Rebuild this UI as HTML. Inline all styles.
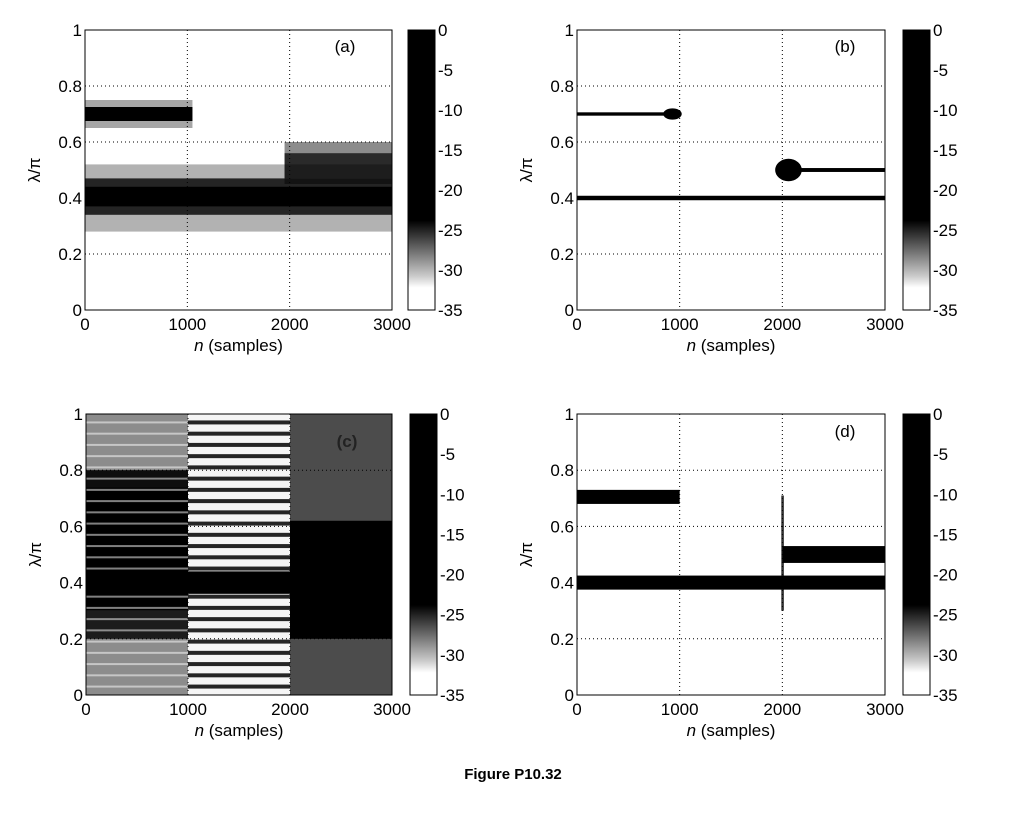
<!DOCTYPE html>
<html><head><meta charset="utf-8">
<style>
body{margin:0;background:#fff;}
svg{display:block;font-family:"Liberation Sans",Arial,sans-serif;}
.cap{font-family:"Liberation Sans",sans-serif;font-weight:bold;font-size:15px;}
</style></head>
<body>
<svg id="fig" width="1024" height="827" viewBox="0 0 1024 827">
<defs>
<linearGradient id="cbg" x1="0" y1="0" x2="0" y2="1">
<stop offset="0" stop-color="#000"/><stop offset="0.68" stop-color="#000"/>
<stop offset="0.78" stop-color="#666"/><stop offset="0.88" stop-color="#ccc"/>
<stop offset="0.92" stop-color="#fff"/><stop offset="1" stop-color="#fff"/>
</linearGradient>
</defs>
<text class="cap" x="513" y="779" text-anchor="middle">Figure P10.32</text>
</svg>
<script>
// tick labels
const xTicks=[0,1000,2000,3000];
const yTicks=[0,0.2,0.4,0.6,0.8,1];
const cbTicks=[0,-5,-10,-15,-20,-25,-30,-35];
// bands: [nStart, nEnd, fLow, fHigh, opacity]
const bandsA=[[0,1050,0.65,0.75,0.35],[0,1050,0.675,0.725,1],[0,3000,0.28,0.52,0.3],[0,3000,0.34,0.47,0.8],[0,3000,0.37,0.44,1],[1950,3000,0.45,0.6,0.45],[1950,3000,0.47,0.56,0.7]];
const bandsB=[[0,1000,0.694,0.706,1],[0,3000,0.392,0.408,1],[1950,3000,0.493,0.507,1]];
// blobs: [nCenter, fCenter, nHalfWidth, fHalfWidth]
const blobsB=[[930,0.7,90,0.02],[2060,0.5,130,0.04]];
const bandsC=[[0,1000,0,1,0.45],[0,1000,0.74,0.8,0.9],[0,1000,0.3,0.74,1],[0,1000,0.2,0.3,0.8],[1000,2000,0,1,0.04],[1000,2000,0.36,0.44,1],[2000,3000,0,1,0.7],[2000,3000,0.2,0.62,1]];
const stripesC=[0.03,0.07,0.11,0.15,0.19,0.23,0.27,0.31,0.35,0.45,0.49,0.53,0.57,0.61,0.65,0.69,0.73,0.77,0.81,0.85,0.89,0.93,0.97];
const bandsD=[[0,1000,0.68,0.73,1],[0,3000,0.375,0.425,1],[2000,3000,0.47,0.53,1],[1990,2015,0.3,0.71,0.8]];
const blobsNone=[];
const panels=[
 {id:'a',x0:85,x1:392,y0:30,y1:310,cb:408,bands:bandsA,blobs:blobsNone,lab:'(a)',lx:345,ly:52},
 {id:'b',x0:577,x1:885,y0:30,y1:310,cb:903,bands:bandsB,blobs:blobsB,lab:'(b)',lx:845,ly:52},
 {id:'c',x0:86,x1:392,y0:414,y1:695,cb:410,bands:bandsC,blobs:blobsNone,lab:'(c)',lx:347,ly:447,stripes:stripesC},
 {id:'d',x0:577,x1:885,y0:414,y1:695,cb:903,bands:bandsD,blobs:blobsNone,lab:'(d)',lx:845,ly:437}
];
const NS='http://www.w3.org/2000/svg';
const svg=document.getElementById('fig');
function mk(t,a,p){const e=document.createElementNS(NS,t);for(const k in a)e.setAttribute(k,a[k]);(p||svg).appendChild(e);return e;}
panels.forEach(P=>{
 const g=mk('g',{});
 
 
 const sx=n=>P.x0+(P.x1-P.x0)*n/3000;
 const sy=f=>P.y1-(P.y1-P.y0)*f;
 mk('rect',{x:P.x0,y:P.y0,width:P.x1-P.x0,height:P.y1-P.y0,fill:'#fff'},g);
 P.bands.forEach(b=>{
  const r=mk('rect',{x:sx(b[0]),y:sy(b[3]),width:sx(b[1])-sx(b[0]),height:sy(b[2])-sy(b[3]),fill:'#000','fill-opacity':b[4]},g);
  
  
 });
 P.blobs.forEach(b=>{
  const e=mk('ellipse',{cx:sx(b[0]),cy:sy(b[1]),rx:sx(b[2])-sx(0),ry:sy(0)-sy(b[3]),fill:'#000'},g);
  
  
 });
 if(P.stripes){P.stripes.forEach(f=>{
  const r=mk('rect',{x:sx(1000),y:sy(f)-2,width:sx(2000)-sx(1000),height:4,fill:'#000','fill-opacity':0.85},g);
  
  
  const w=mk('rect',{x:sx(0),y:sy(f)-1,width:sx(1000)-sx(0),height:2,fill:'#fff','fill-opacity':0.5},g);
  
  
 });}
 // grid
 xTicks.slice(1,-1).forEach(t=>mk('line',{x1:sx(t),x2:sx(t),y1:P.y0,y2:P.y1,stroke:'#000','stroke-width':1,'stroke-dasharray':'1 3'},g));
 yTicks.slice(1,-1).forEach(t=>mk('line',{x1:P.x0,x2:P.x1,y1:sy(t),y2:sy(t),stroke:'#000','stroke-width':1,'stroke-dasharray':'1 3'},g));
 mk('rect',{x:P.x0,y:P.y0,width:P.x1-P.x0,height:P.y1-P.y0,fill:'none',stroke:'#000','stroke-width':1},g);
 xTicks.forEach(t=>{const e=mk('text',{x:sx(t),y:P.y1+20,'text-anchor':'middle','font-size':17},g);e.textContent=t;
  });
 yTicks.forEach(t=>{const e=mk('text',{x:P.x0-3,y:sy(t)+6,'text-anchor':'end','font-size':17},g);e.textContent=t;
  });
 const xt=mk('text',{x:(P.x0+P.x1)/2,y:P.y1+41,'text-anchor':'middle','font-size':17},g);
 xt.innerHTML='<tspan font-style="italic">n</tspan> (samples)';
 
 const cy=(P.y0+P.y1)/2;
 const yt=mk('text',{x:P.x0-45,y:cy,'text-anchor':'middle','font-size':17,transform:'rotate(-90 '+(P.x0-45)+' '+cy+')'},g);
 yt.textContent='λ/π';
 
 const lb=mk('text',{x:P.lx,y:P.ly,'text-anchor':'middle','font-size':17,fill:P.id==='c'?'#222':'#000','font-weight':P.id==='c'?'bold':'normal'},g);
 lb.textContent=P.lab;
 
 // colorbar
 const cb=mk('rect',{x:P.cb,y:P.y0,width:27,height:P.y1-P.y0,fill:'url(#cbg)',stroke:'#000','stroke-width':1},g);
 
 const cs=v=>P.y0+(P.y1-P.y0)*(-v)/35;
 cbTicks.forEach(v=>{const e=mk('text',{x:P.cb+30,y:cs(v)+6,'font-size':17},g);e.textContent=v;
  });
});
</script>
</body></html>
